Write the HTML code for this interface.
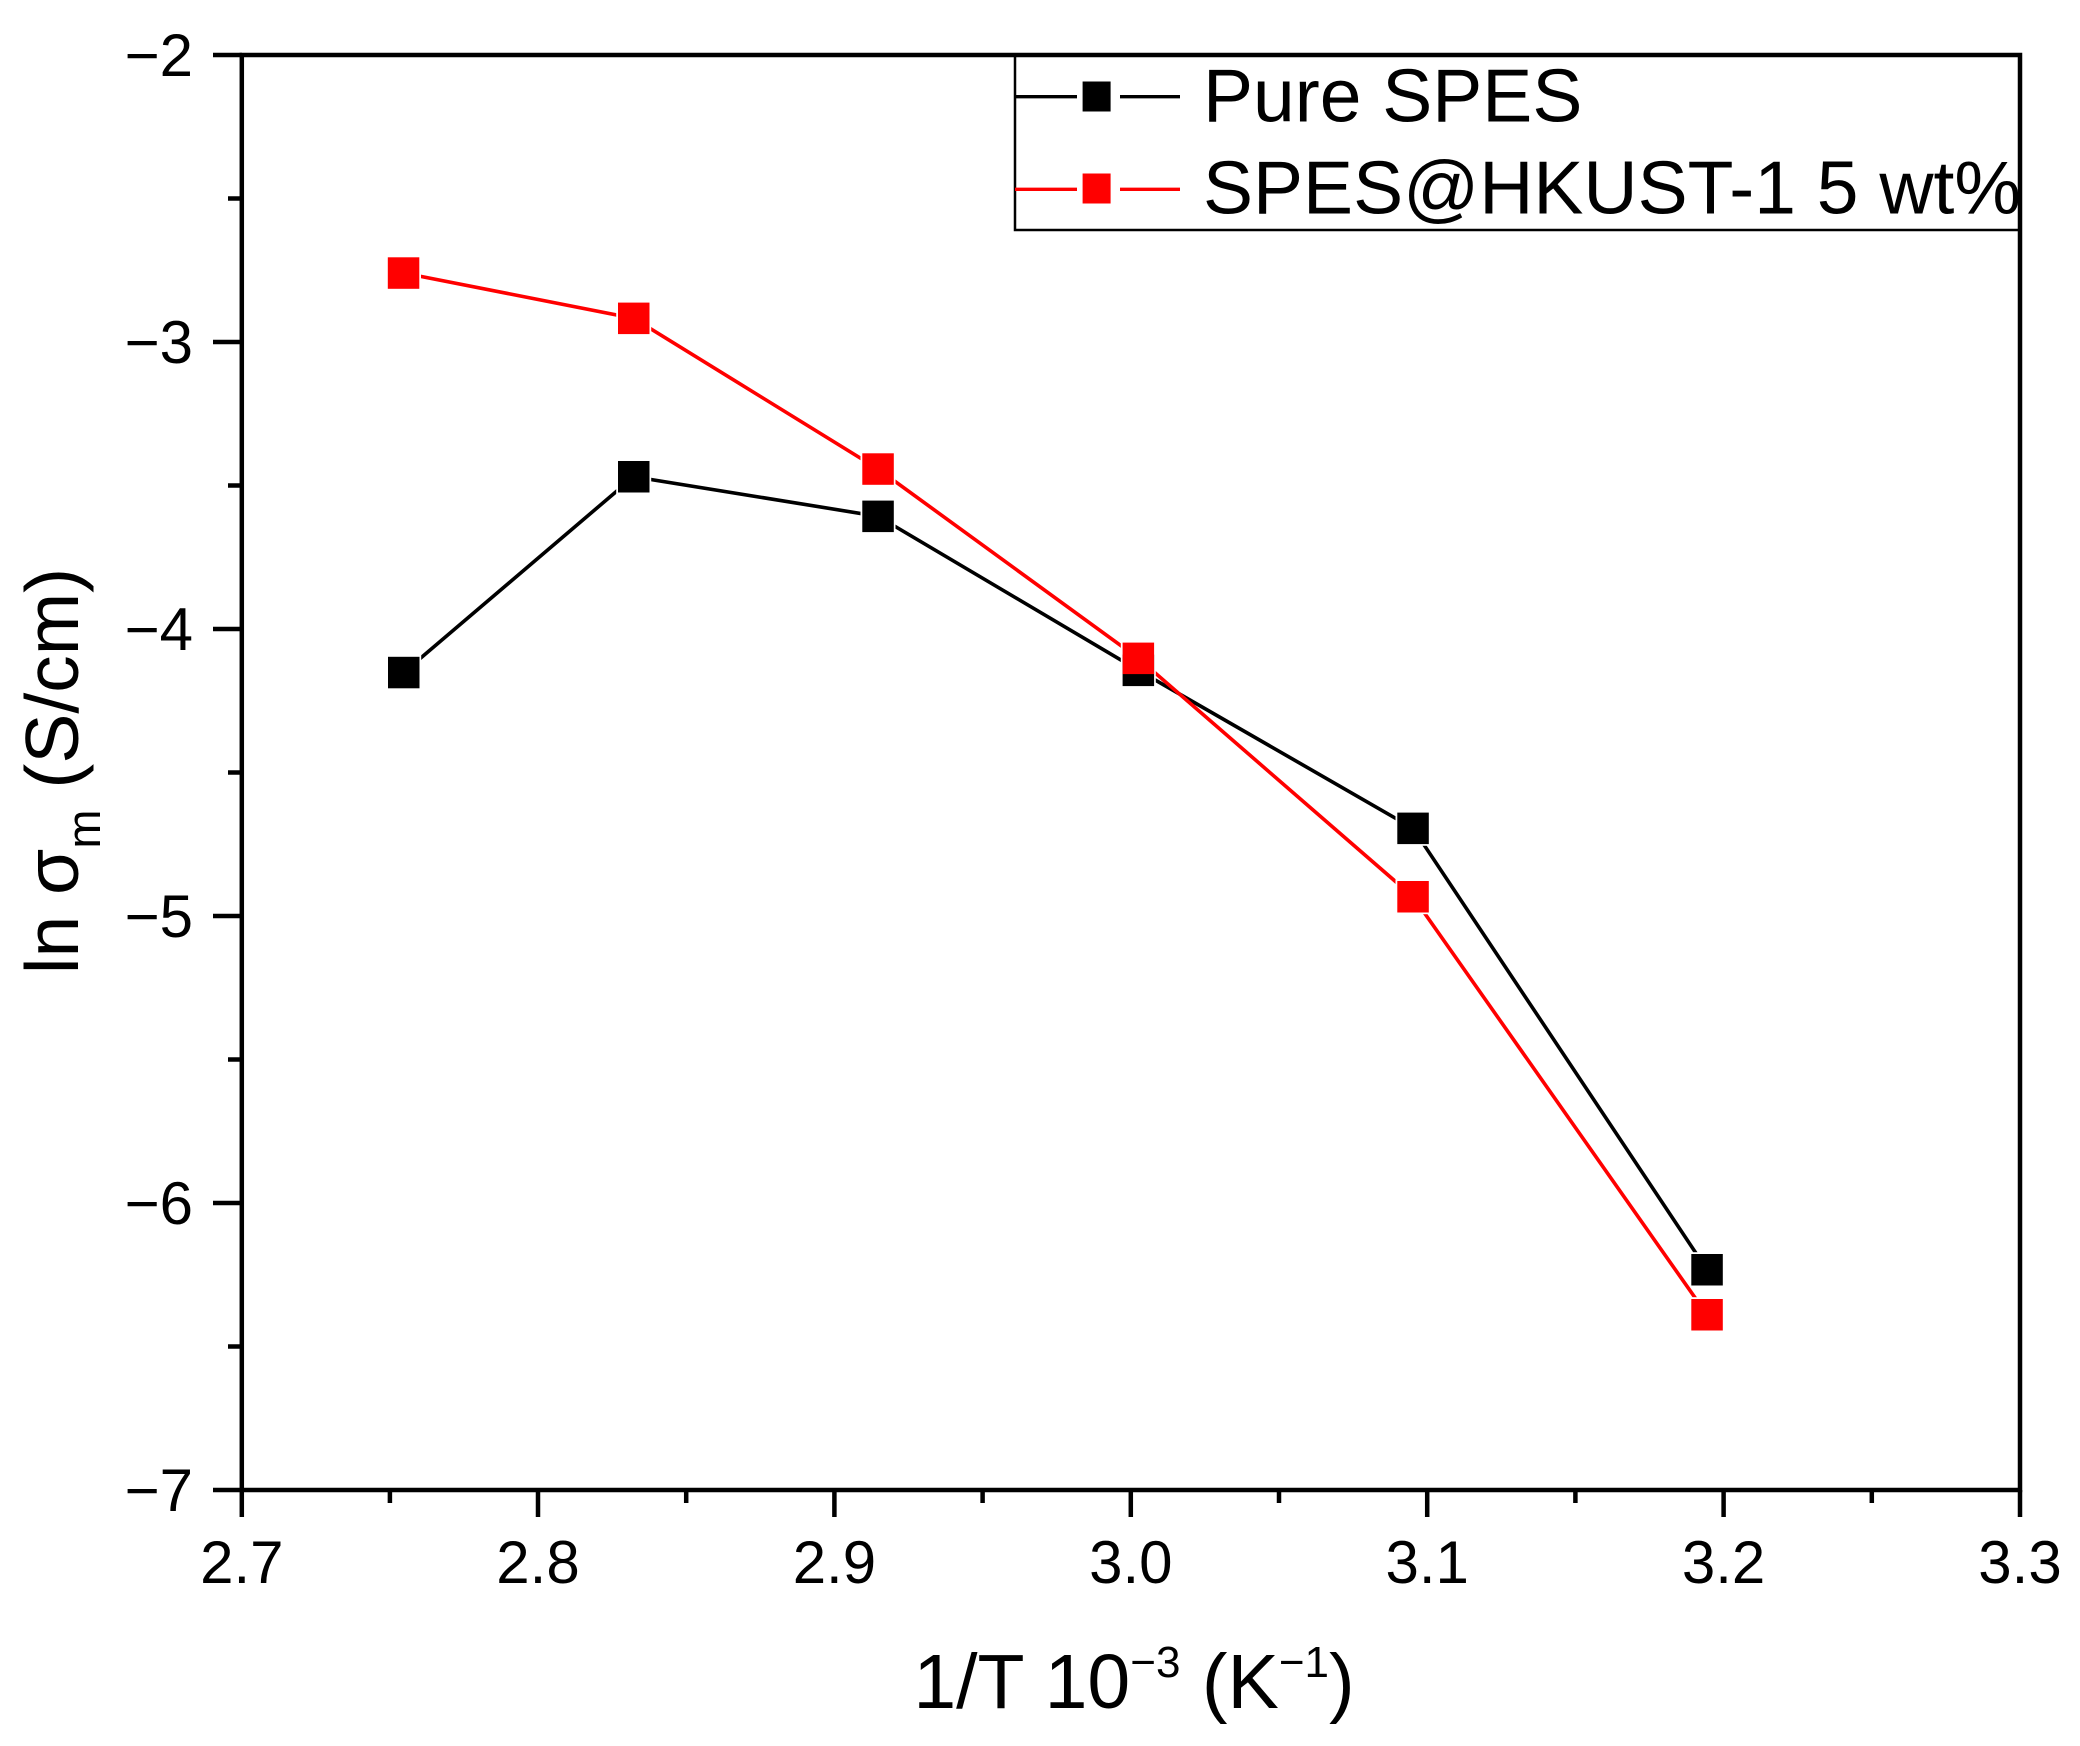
<!DOCTYPE html>
<html>
<head>
<meta charset="utf-8">
<style>
html,body{margin:0;padding:0;background:#fff;}
svg{display:block;}
text{font-family:"Liberation Sans",Arial,sans-serif;fill:#000;}
</style>
</head>
<body>
<svg width="2080" height="1746" viewBox="0 0 2080 1746" xmlns="http://www.w3.org/2000/svg">
<defs>
<mask id="mb" maskUnits="userSpaceOnUse" x="0" y="0" width="2080" height="1746">
<rect x="0" y="0" width="2080" height="1746" fill="#fff"/>
<rect x="386.2" y="655" width="35" height="35" fill="#000"/>
<rect x="616.2" y="459.2" width="35" height="35" fill="#000"/>
<rect x="860.5" y="498.8" width="35" height="35" fill="#000"/>
<rect x="1120.8" y="652.8" width="35" height="35" fill="#000"/>
<rect x="1395.5" y="810.8" width="35" height="35" fill="#000"/>
<rect x="1689.5" y="1252.2" width="35" height="35" fill="#000"/>
</mask>
<mask id="mr" maskUnits="userSpaceOnUse" x="0" y="0" width="2080" height="1746">
<rect x="0" y="0" width="2080" height="1746" fill="#fff"/>
<rect x="386" y="255.5" width="35" height="35" fill="#000"/>
<rect x="616.2" y="300.8" width="35" height="35" fill="#000"/>
<rect x="860.5" y="451.5" width="35" height="35" fill="#000"/>
<rect x="1120.8" y="640.8" width="35" height="35" fill="#000"/>
<rect x="1395.5" y="879.2" width="35" height="35" fill="#000"/>
<rect x="1689.5" y="1297.2" width="35" height="35" fill="#000"/>
</mask>
</defs>

<!-- Legend box -->
<rect x="1015" y="55" width="1005" height="175" fill="none" stroke="#000" stroke-width="2.5"/>

<!-- Black series -->
<polyline points="403.7,672.5 633.7,476.7 878,516.3 1138.3,670.3 1413,828.3 1707,1269.7" fill="none" stroke="#000" stroke-width="3.6" mask="url(#mb)"/>
<g fill="#000">
<rect x="388" y="656.8" width="31.5" height="31.5"/>
<rect x="618" y="461" width="31.5" height="31.5"/>
<rect x="862.3" y="500.6" width="31.5" height="31.5"/>
<rect x="1122.6" y="654.6" width="31.5" height="31.5"/>
<rect x="1397.3" y="812.6" width="31.5" height="31.5"/>
<rect x="1691.3" y="1254" width="31.5" height="31.5"/>
</g>

<!-- Red series -->
<polyline points="403.5,273 633.7,318.3 878,469 1138.3,658.3 1413,896.7 1707,1314.7" fill="none" stroke="#ff0000" stroke-width="3.6" mask="url(#mr)"/>
<g fill="#ff0000">
<rect x="387.8" y="257.3" width="31.5" height="31.5"/>
<rect x="618" y="302.6" width="31.5" height="31.5"/>
<rect x="862.3" y="453.3" width="31.5" height="31.5"/>
<rect x="1122.6" y="642.6" width="31.5" height="31.5"/>
<rect x="1397.3" y="881" width="31.5" height="31.5"/>
<rect x="1691.3" y="1299" width="31.5" height="31.5"/>
</g>

<!-- Axes frame -->
<rect x="241.8" y="55" width="1778.2" height="1435" fill="none" stroke="#000" stroke-width="4.5"/>

<!-- Y ticks -->
<g stroke="#000" stroke-width="4.5">
<line x1="213" y1="55" x2="242" y2="55"/>
<line x1="213" y1="342" x2="242" y2="342"/>
<line x1="213" y1="629" x2="242" y2="629"/>
<line x1="213" y1="916" x2="242" y2="916"/>
<line x1="213" y1="1203" x2="242" y2="1203"/>
<line x1="213" y1="1490" x2="242" y2="1490"/>
<line x1="228" y1="198.5" x2="242" y2="198.5"/>
<line x1="228" y1="485.5" x2="242" y2="485.5"/>
<line x1="228" y1="772.5" x2="242" y2="772.5"/>
<line x1="228" y1="1059.5" x2="242" y2="1059.5"/>
<line x1="228" y1="1346.5" x2="242" y2="1346.5"/>
</g>
<!-- X ticks -->
<g stroke="#000" stroke-width="4.5">
<line x1="241.8" y1="1490" x2="241.8" y2="1517"/>
<line x1="538" y1="1490" x2="538" y2="1517"/>
<line x1="834.4" y1="1490" x2="834.4" y2="1517"/>
<line x1="1130.8" y1="1490" x2="1130.8" y2="1517"/>
<line x1="1427.2" y1="1490" x2="1427.2" y2="1517"/>
<line x1="1723.6" y1="1490" x2="1723.6" y2="1517"/>
<line x1="2020" y1="1490" x2="2020" y2="1517"/>
<line x1="389.9" y1="1490" x2="389.9" y2="1503"/>
<line x1="686.2" y1="1490" x2="686.2" y2="1503"/>
<line x1="982.6" y1="1490" x2="982.6" y2="1503"/>
<line x1="1279" y1="1490" x2="1279" y2="1503"/>
<line x1="1575.4" y1="1490" x2="1575.4" y2="1503"/>
<line x1="1871.8" y1="1490" x2="1871.8" y2="1503"/>
</g>

<!-- Y tick labels -->
<g font-size="60" text-anchor="end">
<text x="193" y="76">−2</text>
<text x="193" y="363">−3</text>
<text x="193" y="650">−4</text>
<text x="193" y="937">−5</text>
<text x="193" y="1224">−6</text>
<text x="193" y="1511">−7</text>
</g>
<!-- X tick labels -->
<g font-size="60" text-anchor="middle">
<text x="241.8" y="1583">2.7</text>
<text x="538" y="1583">2.8</text>
<text x="834.4" y="1583">2.9</text>
<text x="1130.8" y="1583">3.0</text>
<text x="1427.2" y="1583">3.1</text>
<text x="1723.6" y="1583">3.2</text>
<text x="2020" y="1583">3.3</text>
</g>

<!-- X title -->
<text x="1134" y="1708" font-size="77" text-anchor="middle">1/T 10<tspan font-size="44" dy="-31">−3</tspan><tspan dy="31"> (K</tspan><tspan font-size="44" dy="-31">−1</tspan><tspan dy="31">)</tspan></text>

<!-- Y title -->
<text transform="translate(78,771) rotate(-90)" x="0" y="0" font-size="75" text-anchor="middle">ln σ<tspan font-size="47" dy="22">m</tspan><tspan dy="-22"> (S/cm)</tspan></text>

<!-- Legend entries -->
<g stroke="#000" stroke-width="3.4">
<line x1="1015" y1="96.7" x2="1077" y2="96.7"/>
<line x1="1120" y1="96.7" x2="1180" y2="96.7"/>
</g>
<rect x="1082.6" y="81.5" width="28" height="30" fill="#000"/>
<g stroke="#ff0000" stroke-width="3.4">
<line x1="1015" y1="189.3" x2="1077" y2="189.3"/>
<line x1="1120" y1="189.3" x2="1180" y2="189.3"/>
</g>
<rect x="1082.6" y="173.5" width="28" height="30" fill="#ff0000"/>
<text x="1203" y="121.7" font-size="75">Pure SPES</text>
<text x="1203" y="213.3" font-size="75">SPES@HKUST-1 5 wt%</text>
</svg>
</body>
</html>
